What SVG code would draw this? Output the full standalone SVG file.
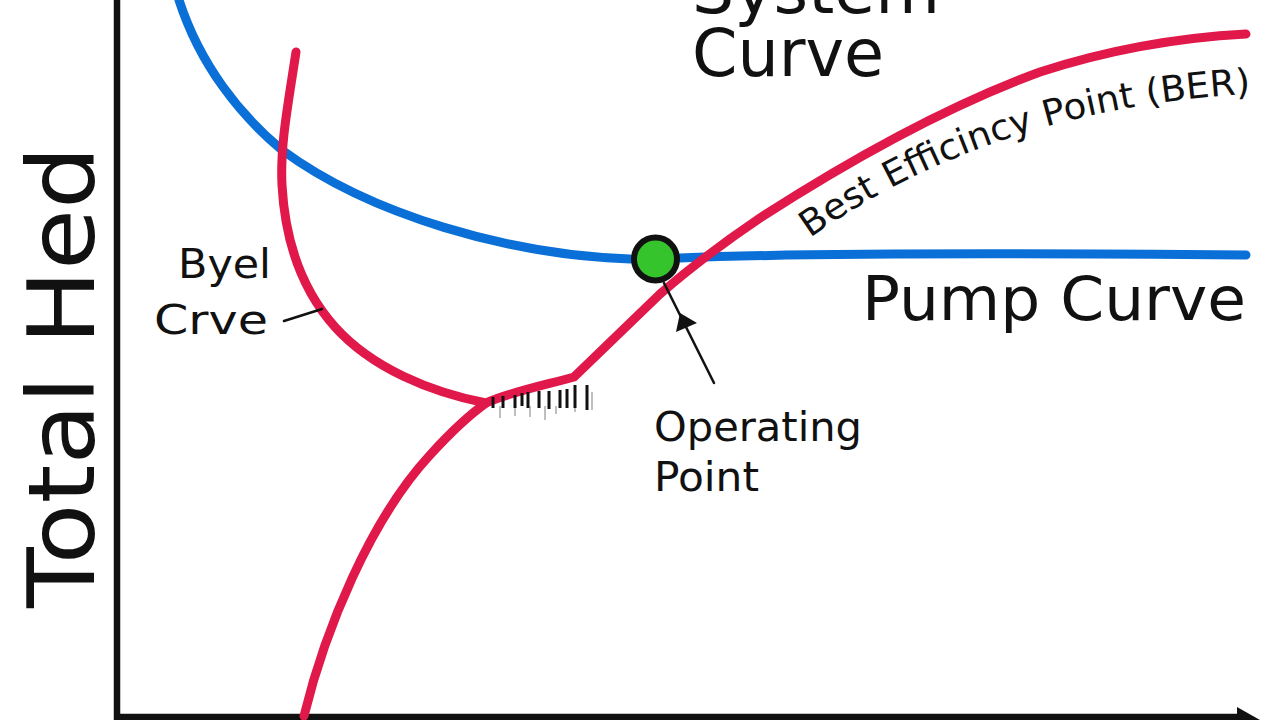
<svg xmlns="http://www.w3.org/2000/svg" width="1280" height="720" viewBox="0 0 1280 720">
<defs>
<path id="ber-path" d="M810 238C900 174 1040 106 1248 94"/>
</defs>
<style>
text{font-family:"DejaVu Sans",sans-serif;fill:#111}
.c{fill:none;stroke-linecap:round;stroke-linejoin:round}
.r{stroke:#e0194a;stroke-width:9}
.b{stroke:#0a6fd6;stroke-width:9}
.k{fill:none;stroke:#111;stroke-width:2.5;stroke-linecap:round}
.t{stroke:#111;stroke-width:3}
.g{stroke:#aaa;stroke-width:1.5}
</style>
<rect width="1280" height="720" fill="#fff"/>
<g id="axes">
<path d="M117 0V717H1240" fill="none" stroke="#111" stroke-width="6.5"/>
<path d="M1237 707L1260 720H1237Z" fill="#111"/>
</g>
<g id="connectors">
<path id="system-curve" class="c b" d="M179 0C200 65 240 115 282 150C370 215 510 255 630 259"/>
<path id="pump-curve" class="c b" d="M680 258C800 253 1000 253 1246 255"/>
<path id="byel-curve" class="c r" d="M296 52C288 105 280 145 282 185C285 240 302 290 335 327C372 368 430 392 486 403"/>
<path id="main-curve" class="c r" d="M304 716C325 630 370 520 430 455C450 433 465 418 486 403C510 392 545 385 574 377L660 294C690 268 720 245 760 218C850 160 950 105 1040 72C1120 46 1190 37 1246 34"/>
<path class="k" d="M284 321L322 309"/>
<path class="k" d="M664 283L714 383"/>
<path d="M680 313L676 332L697 323Z" fill="#111"/>
</g>
<g id="ticks">
<path class="g" d="M500 406V418M515 406V416M530 406V417M545 406V420M556 406V414M575 406V412M592 392V410"/>
<path class="t" d="M493 397V408M503 396V408M515 395V408M522 393V406M528 392V408M539 391V408M549 391V409M560 390V408M567 389V408M575 385V408M587 385V410"/>
</g>
<g id="operating-point">
<circle cx="655.5" cy="259" r="21.5" fill="#35c42c" stroke="#111" stroke-width="6"/>
</g>
<g id="labels">
<text x="692" y="13" font-size="66" textLength="248" lengthAdjust="spacingAndGlyphs">System</text>
<text x="692" y="76" font-size="66" textLength="192" lengthAdjust="spacingAndGlyphs">Curve</text>
<text transform="translate(94 608) rotate(-90)" font-size="93" textLength="462" lengthAdjust="spacingAndGlyphs">Total Hed</text>
<text x="178" y="278" font-size="41" textLength="93" lengthAdjust="spacingAndGlyphs">Byel</text>
<text x="154" y="334" font-size="41" textLength="114" lengthAdjust="spacingAndGlyphs">Crve</text>
<text x="862" y="320" font-size="60" textLength="384" lengthAdjust="spacingAndGlyphs">Pump Curve</text>
<text x="654" y="441" font-size="41" textLength="208" lengthAdjust="spacingAndGlyphs">Operating</text>
<text x="654" y="491" font-size="41" textLength="105" lengthAdjust="spacingAndGlyphs">Point</text>
<text font-size="36"><textPath href="#ber-path" textLength="470" lengthAdjust="spacingAndGlyphs">Best Efficincy Point (BER)</textPath></text>
</g>
</svg>
